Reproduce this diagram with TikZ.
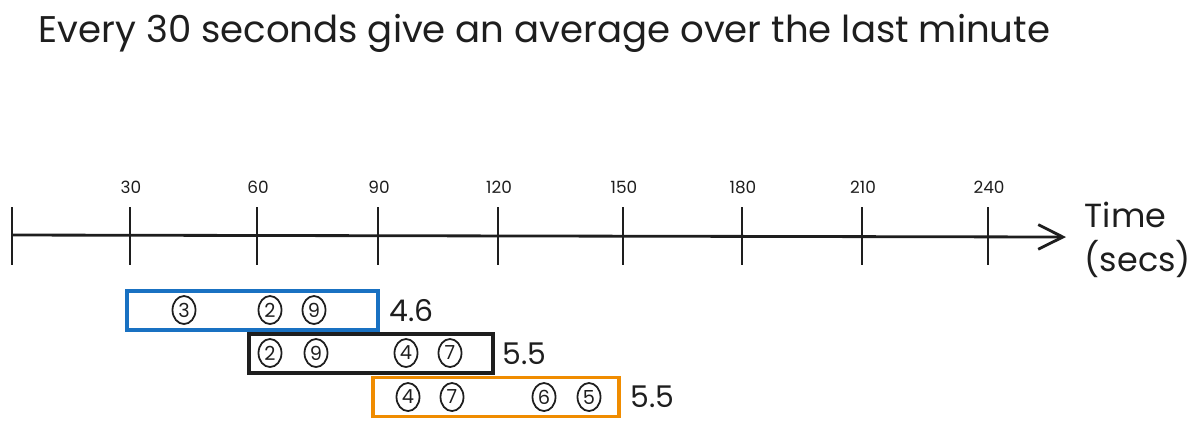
\documentclass[tikz,border=0pt]{standalone}
\usepackage{fontspec}
\setmainfont{Poppins}
\usetikzlibrary{arrows.meta,positioning,shapes.geometric}
\definecolor{ink}{HTML}{1E1E1E}
\definecolor{winblue}{HTML}{1971C2}
\definecolor{winorange}{HTML}{F08C00}

\begin{document}
\begin{tikzpicture}[x=0.01cm,y=-0.01cm,
  tick/.style={ink, line width=0.8pt},
  ticklabel/.style={font=\fontsize{4.8}{5}\selectfont, text=ink},
  winbox/.style={draw, line width=0.9pt, minimum height=0.39cm, inner sep=0pt},
  val/.style={ellipse, draw=ink, line width=0.5pt, minimum width=0.23cm, minimum height=0.28cm, inner sep=0pt, font=\fontsize{5.5}{6}\selectfont, text=ink},
  avg/.style={font=\fontsize{8.5}{9}\selectfont, text=ink, inner sep=0pt}]
\useasboundingbox (0,0) rectangle (1200,426);

\node[font=\fontsize{10.55}{12}\selectfont, text=ink, anchor=west, inner sep=0pt] (title) at (38,33) {Every 30 seconds give an average over the last minute};

% time axis
\coordinate (t0) at (12,235);
\coordinate (tend) at (1066,237);
\draw[ink, line width=0.8pt, -{Straight Barb[length=7pt, width=7pt]}] (t0) -- (tend);
\draw[tick] (12,207) -- (12,265);
\foreach \x/\l in {130/30,257/60,378/90,498/120,623/150,742/180,862/210,988/240} {
  \draw[tick] (\x,207) -- (\x,265);
  \node[ticklabel] (lab\l) at (\x+1,187) {\l};
}
\node[font=\fontsize{9.5}{12.5}\selectfont, text=ink, align=left, anchor=west, inner sep=0pt] (axis) at (1084,240) {Time\\(secs)};

% windows
\node[winbox, draw=winblue, minimum width=2.51cm] (w1) at (252.5,310.5) {};
\node[winbox, draw=ink, minimum width=2.44cm] (w2) at (371,353.5) {};
\node[winbox, draw=winorange, minimum width=2.46cm] (w3) at (496,397) {};

\foreach \n/\x/\v in {a/184/3,b/270/2,c/314/9} \node[val] (w1\n) at (\x,310) {\v};
\foreach \n/\x/\v in {a/270/2,b/316/9,c/406/4,d/450/7} \node[val] (w2\n) at (\x,353) {\v};
\foreach \n/\x/\v in {a/408/4,b/452/7,c/544/6,d/589/5} \node[val] (w3\n) at (\x,397) {\v};

\node[avg, right=2.6pt of w1] (m1) {4.6};
\node[avg, right=2pt of w2] (m2) {5.5};
\node[avg, right=2.6pt of w3] (m3) {5.5};
\end{tikzpicture}
\end{document}
